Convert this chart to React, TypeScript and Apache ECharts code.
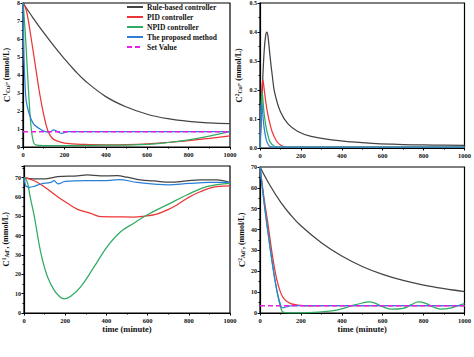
import React, { useEffect, useRef } from "react";
import * as echarts from "echarts";

// ---------- data ----------
const xTicks = [0, 200, 400, 600, 800, 1000];
const seriesNames = ["Rule-based controller", "PID controller", "NPID controller", "The proposed method", "Set Value"];

// Panel A: C1 Cu2+
const ruleA_t = [0, 50, 100, 150, 200, 250, 300, 400, 500, 600, 700, 800, 900, 1000];
const ruleA_v = [8, 7.15, 6.35, 5.6, 4.9, 4.25, 3.68, 2.8, 2.22, 1.82, 1.57, 1.42, 1.34, 1.3];
const pidA_t = [0, 10, 20, 40, 60, 80, 100, 120, 140, 160, 200, 300, 400, 500, 600, 700, 800, 900, 1000];
const pidA_v = [8, 7.8, 7.4, 6.0, 4.5, 3.0, 1.8, 0.9, 0.5, 0.35, 0.22, 0.14, 0.12, 0.13, 0.17, 0.25, 0.35, 0.48, 0.62];
const npidA_t = [0, 10, 20, 30, 40, 50, 60, 100, 200, 400, 600, 700, 800, 900, 1000];
const npidA_v = [8, 6.5, 4.5, 2.5, 1.0, 0.3, 0.12, 0.08, 0.08, 0.1, 0.15, 0.25, 0.4, 0.6, 0.85];
const propA_t = [0, 2, 5, 10, 15, 26, 50, 82, 114, 135, 147, 160, 175, 187, 200, 215, 1000];
const propA_v = [8, 6.5, 4.8, 3.5, 2.6, 2.0, 1.3, 1.0, 0.84, 0.86, 0.95, 0.9, 0.8, 0.76, 0.8, 0.85, 0.85];
const setA = 0.85;

// Panel B: C2 Cu2+
const ruleB_t = [0, 5, 10, 20, 28, 34, 40, 50, 60, 72, 100, 137, 185, 250, 350, 450, 550, 650, 750, 850, 1000];
const ruleB_v = [0, 0.08, 0.18, 0.33, 0.39, 0.4, 0.38, 0.31, 0.25, 0.19, 0.125, 0.083, 0.057, 0.04, 0.028, 0.021, 0.016, 0.013, 0.011, 0.01, 0.009];
const pidB_t = [0, 5, 10, 14, 20, 30, 40, 50, 60, 80, 100, 120, 150, 1000];
const pidB_v = [0, 0.12, 0.21, 0.235, 0.205, 0.15, 0.11, 0.08, 0.055, 0.025, 0.01, 0.004, 0.003, 0.003];
const npidB_t = [0, 4, 8, 11, 15, 20, 30, 40, 50, 70, 100, 1000];
const npidB_v = [0, 0.11, 0.175, 0.19, 0.16, 0.12, 0.07, 0.04, 0.02, 0.006, 0.003, 0.003];
const propB_t = [0, 3, 6, 8, 12, 20, 30, 40, 50, 100, 1000];
const propB_v = [0, 0.09, 0.14, 0.155, 0.13, 0.07, 0.03, 0.012, 0.005, 0.003, 0.003];

// Panel C: C1 Ad-
const ruleC_t = [0, 50, 98, 163, 260, 307, 372, 452, 500, 565, 630, 710, 790, 855, 935, 1000];
const ruleC_v = [70, 69.3, 69.3, 70.5, 70.9, 71.4, 70.9, 71, 70.2, 68.8, 68.3, 67.6, 68.3, 68.8, 68.8, 67.4];
const pidC_t = [0, 50, 98, 163, 211, 260, 324, 372, 452, 533, 580, 640, 694, 742, 790, 855, 935, 1000];
const pidC_v = [70, 68.4, 65.3, 60.1, 56.7, 53.6, 51.5, 49.8, 49.7, 49.6, 50, 51, 53.2, 55.8, 59.2, 62.7, 65.3, 65.7];
const npidC_t = [0, 10, 18, 30, 50, 82, 114, 147, 175, 195, 227, 275, 340, 404, 469, 533, 597, 694, 790, 887, 1000];
const npidC_v = [70, 69, 67, 60, 50, 31, 18.7, 11.7, 8.3, 7.3, 8.6, 13.5, 23.8, 34.3, 42, 46.4, 50.7, 55.9, 61, 65.3, 67];
const propC_t = [0, 5, 10, 25, 50, 82, 130, 147, 155, 165, 200, 300, 400, 460, 550, 650, 700, 800, 900, 1000];
const propC_v = [70, 67, 65.5, 65, 65.5, 66.7, 67.5, 68.4, 67.6, 66.8, 68, 68.5, 68.5, 69, 67.5, 66.5, 66.3, 67, 67.5, 67.5];

// Panel D: C2 Ad-
const ruleD_t = [0, 50, 100, 150, 200, 300, 400, 500, 600, 700, 800, 900, 1000];
const ruleD_v = [70, 61, 53.3, 47, 41.8, 33.7, 27.3, 22.3, 18.5, 15.6, 13.4, 11.7, 10.3];
const pidD_t = [0, 20, 40, 60, 80, 100, 120, 150, 200, 250, 300, 1000];
const pidD_v = [70, 55, 42, 28, 17, 10, 6.5, 4.5, 3.7, 3.4, 3.5, 3.5];
const npidD_t = [0, 20, 40, 60, 80, 100, 115, 150, 200, 300, 350, 400, 450, 500, 533, 565, 600, 645, 700, 740, 775, 810, 850, 887, 930, 970, 1000];
const npidD_v = [70, 53, 38, 24, 12, 3, 0.3, 0.1, 0.1, 0.5, 1.0, 2, 3.5, 4.8, 5.3, 4.6, 3, 1.8, 2.2, 4, 5.3, 4.6, 2.8, 1.8, 2.3, 3.6, 4.5];
const propD_t = [0, 20, 40, 60, 80, 100, 112, 130, 160, 200, 1000];
const propD_v = [70, 53, 38, 24, 12, 4, 2.5, 3, 3.5, 3.5, 3.5];
const setD = 3.5;

// ---------- styles ----------
const FONT = "'Liberation Serif', 'Times New Roman', serif";
const COLORS = ["#444444", "#ee3535", "#2fab62", "#2b7fd6", "#e61ee6"];

const zip = (t: number[], v: number[]) => t.map((x, i) => [x, v[i]]);

export default function App() {
  const ref = useRef<HTMLDivElement>(null);
  useEffect(() => {
    if (!ref.current) return;
    const chart = echarts.init(ref.current, undefined, { renderer: "svg" });

    const grids = [
      { left: 23, top: 3, width: 207, height: 144 },
      { left: 260, top: 3, width: 207, height: 145 },
      { left: 23, top: 166, width: 207, height: 147 },
      { left: 260, top: 167, width: 207, height: 146 },
    ].map((g) => ({ ...g, show: true, borderColor: "#000", borderWidth: 1.2, backgroundColor: "transparent" }));

    const xAxis = [0, 1, 2, 3].map((i) => ({
      type: "value",
      gridIndex: i,
      min: 0,
      max: 1000,
      interval: 200,
      name: i >= 2 ? "time (minute)" : "",
      nameLocation: "middle",
      nameGap: 11,
      nameTextStyle: { fontFamily: FONT, fontWeight: "bold", fontSize: 8.5, color: "#111" },
      axisLine: { lineStyle: { color: "#000", width: 1.2 } },
      axisTick: { length: 2.5, lineStyle: { color: "#000" } },
      minorTick: { show: true, splitNumber: 2, length: 1.5, lineStyle: { color: "#000" } },
      splitLine: { show: false },
      axisLabel: {
        fontFamily: FONT,
        fontWeight: "bold",
        fontSize: 6.5,
        color: "#111",
        margin: 4,
        formatter: (v: number) => (xTicks.includes(v) ? String(v) : ""),
      },
    }));

    const rich = {
      c: { fontFamily: FONT, fontWeight: "bold", fontSize: 9, color: "#111" },
      sup: { fontFamily: FONT, fontWeight: "bold", fontSize: 5.5, color: "#111", verticalAlign: "top" },
      sub: { fontFamily: FONT, fontWeight: "bold", fontSize: 5.5, color: "#111", verticalAlign: "bottom" },
      n: { fontFamily: FONT, fontWeight: "bold", fontSize: 8, color: "#111" },
    };
    const yNames = [
      "{c|C}{sup|1}{sub|Cu²⁺}{n| (mmol/L)}",
      "{c|C}{sup|2}{sub|Cu²⁺}{n| (mmol/L)}",
      "{c|C}{sup|1}{sub|Ad⁻}{n|, (mmol/L)}",
      "{c|C}{sup|2}{sub|Ad⁻}{n|, (mmol/L)}",
    ];
    const yCfg = [
      { min: 0, max: 8, interval: 1, dec: 0, gap: 12 },
      { min: 0, max: 0.5, interval: 0.1, dec: 1, gap: 17 },
      { min: 0, max: 76, interval: 10, dec: 0, gap: 14 },
      { min: 0, max: 70, interval: 10, dec: 0, gap: 14 },
    ];
    const yAxis = yCfg.map((c, i) => ({
      type: "value",
      gridIndex: i,
      min: c.min,
      max: c.max,
      interval: c.interval,
      name: yNames[i],
      nameLocation: "middle",
      nameRotate: 90,
      nameGap: c.gap,
      nameTextStyle: { rich },
      axisLine: { show: true, lineStyle: { color: "#000", width: 1.2 } },
      axisTick: { show: true, length: 2.5, lineStyle: { color: "#000" } },
      minorTick: { show: true, splitNumber: 2, length: 1.5, lineStyle: { color: "#000" } },
      splitLine: { show: false },
      axisLabel: {
        fontFamily: FONT,
        fontWeight: "bold",
        fontSize: 6,
        color: "#111",
        margin: 3,
        formatter: (v: number) => {
          const k = Math.round(v / c.interval);
          if (Math.abs(k * c.interval - v) > 1e-9) return "";
          return v.toFixed(c.dec);
        },
      },
    }));

    const panels = [
      [zip(ruleA_t, ruleA_v), zip(pidA_t, pidA_v), zip(npidA_t, npidA_v), zip(propA_t, propA_v), [[0, setA], [1000, setA]]],
      [zip(ruleB_t, ruleB_v), zip(pidB_t, pidB_v), zip(npidB_t, npidB_v), zip(propB_t, propB_v), null],
      [zip(ruleC_t, ruleC_v), zip(pidC_t, pidC_v), zip(npidC_t, npidC_v), zip(propC_t, propC_v), null],
      [zip(ruleD_t, ruleD_v), zip(pidD_t, pidD_v), zip(npidD_t, npidD_v), zip(propD_t, propD_v), [[0, setD], [1000, setD]]],
    ];

    const series: any[] = [];
    panels.forEach((p, gi) => {
      p.forEach((data, si) => {
        if (!data) return;
        const isSet = si === 4;
        series.push({
          type: "line",
          name: seriesNames[si],
          xAxisIndex: gi,
          yAxisIndex: gi,
          data,
          showSymbol: false,
          symbol: "none",
          smooth: isSet ? false : 0.4,
          z: isSet ? 5 : 2 + si,
          emphasis: { disabled: true },
          lineStyle: {
            color: COLORS[si],
            width: isSet ? 1.4 : 1.25,
            type: isSet ? [5, 3] : "solid",
            opacity: 1,
          },
          itemStyle: { color: COLORS[si], opacity: 0 },
        });
      });
    });

    chart.setOption({
      animation: false,
      backgroundColor: "#fff",
      grid: grids,
      xAxis,
      yAxis,
      legend: {
        orient: "vertical",
        left: 126,
        top: 3,
        padding: 0,
        itemWidth: 16,
        itemHeight: 7,
        itemGap: 2,
        data: seriesNames,
        itemStyle: { opacity: 0 },
        textStyle: { fontFamily: FONT, fontWeight: "bold", fontSize: 7.5, color: "#111", padding: [0, 0, 0, -1] },
      },
      series,
    });
    return () => chart.dispose();
  }, []);
  return <div ref={ref} style={{ position: "fixed", left: 0, top: 0, width: 474, height: 357 }} />;
}
